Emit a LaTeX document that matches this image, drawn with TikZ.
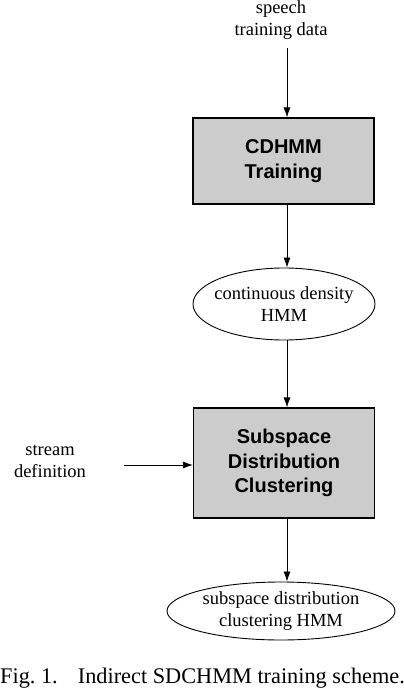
\documentclass[tikz,border=0pt]{standalone}
\usepackage{fontspec}
\setmainfont{Liberation Serif}
\newfontfamily\boxfont{Liberation Sans}
\usetikzlibrary{shapes.geometric,arrows.meta}
\tikzset{
  procbox/.style={draw=black, line width=1.2pt, fill=black!20, minimum width=181pt, font=\boxfont\bfseries\fontsize{20}{24.5}\selectfont, align=center, inner sep=0pt},
  dataell/.style={ellipse, draw=black, line width=0.9pt, fill=white, inner sep=0pt},
  elltext/.style={align=center, inner sep=0pt, font=\fontsize{18.5}{22}\selectfont},
  lbl/.style={align=center, font=\fontsize{18.5}{22}\selectfont, inner sep=0pt},
  flow/.style={-{Latex[length=10pt,width=7pt]}, line width=0.8pt}
}
\begin{document}
\begin{tikzpicture}[x=1pt,y=-1pt]
\useasboundingbox (0,0) rectangle (404,688);
\node[lbl] (speech) at (281,20) {speech\\training data};
\coordinate (sin) at (287,48);
\node[procbox, minimum height=86pt] (cd) at (283.5,161) {CDHMM\\Training};
\node[dataell, minimum width=182pt, minimum height=72pt] (hmm) at (284,304) {};
\node[elltext] (hmmtxt) at (hmm.center) {continuous density\\HMM};
\node[procbox, minimum height=110pt] (sdc) at (284,463) {Subspace\\Distribution\\Clustering};
\node[lbl] (stream) at (50,461) {stream\\definition};
\coordinate (strin) at (124,465);
\node[dataell, minimum width=228pt, minimum height=58pt] (out) at (281,611) {};
\node[elltext] (outtxt) at (out.center) {subspace distribution\\clustering HMM};
\node[anchor=west, inner sep=0pt, font=\fontsize{22.3}{24}\selectfont] (cap) at (0,678) {Fig.~1.\hspace{0.9em}Indirect SDCHMM training scheme.};
\draw[flow] (sin) -- (cd.north-|sin);
\draw[flow] (cd.south-|sin) -- (sin|-hmm.north);
\draw[flow] (sin|-hmm.south) -- (sdc.north-|sin);
\draw[flow] (strin) -- (sdc.west|-strin);
\draw[flow] (sdc.south-|sin) -- (sin|-out.north);
\end{tikzpicture}
\end{document}
